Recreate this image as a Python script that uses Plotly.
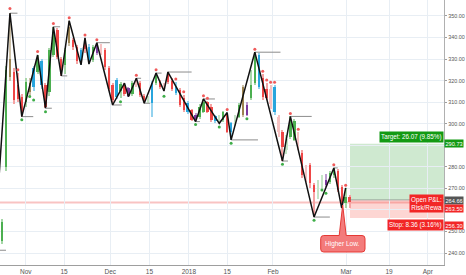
import plotly.graph_objects as go

# ---------------- data ----------------
START = -1
OPEN = [246, 243, 245.5, 280, 330, 324, 318, 312.5, 310, 319, 317, 324, 329, 318, 314.7, 332, 343.5, 330, 327.3, 345,
        338.9, 335.6, 328.7, 338, 335.6, 329.6, 333, 336, 334, 326, 318, 312.4, 315, 318, 316.5, 314, 320, 319, 313, 310,
        309.5, 319, 319.4, 318, 323.5, 320, 314.3, 315.7, 312, 305.5, 306.4, 304, 303, 305.5, 310, 308, 303.5, 301, 301.7, 304.5,
        296, 300, 303, 304, 308.7, 312, 319, 332, 321, 316, 316, 317, 303, 296, 288, 294, 292.5, 295, 286.4, 280,
        280.9, 271.6, 268, 271, 274, 273, 276, 278, 270.6, 263.2, 266]
HIGH = [248, 250, 256, 327, 351.3, 326, 323.5, 314, 321, 321, 327, 331.9, 330, 319, 335, 345, 344.5, 331, 335, 347.8,
        340, 336.5, 335, 339.8, 337, 336.5, 337.6, 337, 335, 327, 319, 321, 319.5, 318.8, 317, 320, 321.1, 320, 314, 313,
        320, 323.5, 320.5, 319, 324, 321, 319.5, 316.5, 313.5, 310.5, 307, 305, 309, 311.5, 310.7, 309, 304, 304, 306, 305.2,
        301, 304, 309.5, 318, 310, 325, 333.2, 333, 323, 319, 318, 318, 304, 297, 295, 303.4, 302, 296, 288, 281,
        282, 272.5, 274, 276, 276.5, 278, 279.5, 279, 271.5, 270.2, 267]
LOW = [241.3, 242, 244, 278, 320, 309, 310, 303.3, 308, 312.5, 315, 323, 316, 307.2, 313, 331, 330, 322.2, 323, 336,
       334, 327.5, 327.3, 333, 327.7, 328.5, 332, 332, 325, 315, 308.7, 311.5, 312, 313, 312.6, 313, 317, 312.5, 309.5, 309.8,
       303, 318, 316, 315.2, 318.5, 315, 313.5, 308, 305.5, 304.5, 301.3, 301, 302, 305, 305, 301, 300.5, 300.2, 301, 295.5,
       292.5, 299, 302.5, 303, 303.5, 311, 318, 316, 311, 311, 307, 304, 294, 282.7, 286, 293, 292, 288, 275, 273,
       270, 256.7, 265, 269, 270.5, 272, 275, 268.5, 260.9, 261, 261]
CLOSE = [243, 248, 254.3, 325, 321.5, 311, 311.5, 305, 319.4, 314.5, 326, 330, 318, 308, 334, 342.6, 331, 323, 334.2, 337.5,
         335.6, 329, 334, 334.5, 328.7, 335.6, 337, 333, 326.3, 316, 311, 320.3, 318.5, 314, 313, 319, 318, 313.3, 310, 312.5,
         319, 322.6, 317, 315.7, 319.4, 316, 317, 308.7, 306.4, 309.6, 301.7, 302, 308, 310, 305.5, 301.7, 301.3, 303, 305.5, 296,
         300.2, 303, 308.7, 317, 304, 318, 331.5, 317, 312.4, 312, 309, 305.5, 296, 289, 293, 301.7, 301.5, 289, 276.2, 275,
         272.5, 268.3, 272, 274, 271.5, 277, 279.3, 269.3, 261.4, 266, 263.5]
BAR_STYLE = ("r g G G O R R R G O C G C R G G R R G O "
             "R R C R C G P r R R R C G R P G r R R g "
             "C G R r R R C R R C R P G G R R C g G R "
             "C g G O P G G C R R r C r R g G G r R r "
             "R R g g P G G R R G R").split()

ZIGZAG_I = [-1, 3, 6, 10, 12, 14, 16, 18, 21, 22, 23, 25, 29, 32, 33, 35, 37, 40, 42, 43, 50, 52, 56, 58, 59,
            65, 72, 74, 80, 85, 87, 88]
ZIGZAG_P = [241.3, 351.3, 303.3, 331.9, 307.2, 345.0, 322.2, 347.8, 327.3, 339.8, 327.7, 337.6, 308.7, 318.8, 312.6,
            321.1, 309.5, 323.5, 315.2, 324.0, 301.0, 311.5, 300.2, 305.2, 292.5, 333.2, 282.7, 303.4, 256.7, 279.5,
            260.9, 270.2]

LEVEL_START = [-1, 3, 6, 12, 14, 16, 25, 29, 35, 37, 40, 43, 50, 52, 59, 65, 72, 74, 80, 85]
LEVEL_END = [2, 4.9, 8.9, 13.6, 15.7, 17.5, 28.3, 31.3, 36.2, 38.5, 41.4, 49, 51.1, 54.9, 65.8, 71.5, 73.4, 79.4, 84, 86]
LEVEL_PRICE = [241.3, 351.3, 303.3, 307.2, 345.0, 322.2, 337.6, 308.7, 321.1, 309.5, 323.5, 324.0, 301.0, 311.5,
               292.5, 333.2, 282.7, 303.4, 256.7, 279.5]

RED_DOT_I = [3, 5, 10, 14, 18, 22, 25, 35, 40, 45, 47, 52, 53, 58, 65, 67, 68, 69, 70, 74, 76, 85, 88]
RED_DOT_P = [353.5, 325, 333.5, 346.5, 349.2, 341.2, 339, 322.5, 325, 320.8, 314.8, 313, 311.8, 306.6, 334.6,
             324.3, 320.3, 319.3, 319.3, 304.8, 297.4, 281, 271.5]
GREEN_DOT_I = [6, 8, 9, 12, 31, 42, 50, 56, 59, 63, 72, 80, 82, 83]
GREEN_DOT_P = [301.8, 312.6, 311, 305.6, 310.2, 312.8, 299.7, 298.5, 291, 302.3, 281.2, 255.2, 269.3, 267.7]

X_TICK_POS = [7, 16.7, 28.4, 38.3, 48.3, 58, 69.6, 88.1, 99, 108.8]
X_TICK_TEXT = ["Nov", "15", "Dec", "15", "2018", "15", "Feb", "Mar", "19", "Apr"]
Y_TICKS = [240, 250, 260, 270, 280, 290, 300, 310, 320, 330, 340, 350]
Y_HIDDEN = [260, 290]

ENTRY, TARGET, STOP, LAST = 264.66, 290.73, 256.30, 263.50
TOOL_START = 89.1
TARGET_TEXT = "Target: 26.07 (9.85%)"
STOP_TEXT = "Stop: 8.36 (3.16%)"
PNL_TEXT = "Open P&L:<br>Risk/Rewa"
CALLOUT_TEXT = "Higher Low."

# ---------------- styling ----------------
BODY_COL = {"G": "#4caf50", "R": "#ef4646", "C": "#27a5dd", "P": "#7b3a9e", "O": "#9c8350",
            "r": "#f6c2c2", "g": "#c4e5c6"}
WICK_COL = {"G": "#a6d7a8", "R": "#f6a3a3", "C": "#93d2ee", "P": "#bd9dcf", "O": "#cdc1a8",
            "r": "#f6c2c2", "g": "#c4e5c6"}
FONT = "Liberation Sans"
XR = [0.48, 112.9]
YR = [234.45, 357.42]

idx = list(range(START, START + len(OPEN)))
body_base = [min(o, c) for o, c in zip(OPEN, CLOSE)]
body_h = [max(abs(c - o), 0.4) for o, c in zip(OPEN, CLOSE)]
wick_h = [h - l for h, l in zip(HIGH, LOW)]

fig = go.Figure()
fig.add_trace(go.Bar(x=idx, y=wick_h, base=LOW, width=0.26,
                     marker=dict(color=[WICK_COL[s] for s in BAR_STYLE], line=dict(width=0)),
                     hoverinfo="skip"))
fig.add_trace(go.Bar(x=idx, y=body_h, base=body_base, width=0.6,
                     marker=dict(color=[BODY_COL[s] for s in BAR_STYLE], line=dict(width=0)),
                     hoverinfo="skip"))

lx, ly = [], []
for s, e, p in zip(LEVEL_START, LEVEL_END, LEVEL_PRICE):
    lx += [s, e, None]
    ly += [p, p, None]
fig.add_trace(go.Scatter(x=lx, y=ly, mode="lines", line=dict(color="#8c8c8c", width=1), hoverinfo="skip"))
fig.add_trace(go.Scatter(x=ZIGZAG_I, y=ZIGZAG_P, mode="lines", line=dict(color="#111111", width=1.5),
                         hoverinfo="skip"))
fig.add_trace(go.Scatter(x=RED_DOT_I, y=RED_DOT_P, mode="markers",
                         marker=dict(color="#f05a5a", size=3, line=dict(width=0)), hoverinfo="skip"))
fig.add_trace(go.Scatter(x=GREEN_DOT_I, y=GREEN_DOT_P, mode="markers",
                         marker=dict(color="#3fae49", size=3, line=dict(width=0)), hoverinfo="skip"))

shapes = [
    dict(type="rect", xref="x", yref="y", x0=TOOL_START, x1=XR[1], y0=ENTRY, y1=TARGET,
         fillcolor="rgba(76,175,80,0.27)", line=dict(width=0), layer="below"),
    dict(type="rect", xref="x", yref="y", x0=TOOL_START, x1=XR[1], y0=STOP, y1=ENTRY,
         fillcolor="rgba(244,67,54,0.22)", line=dict(width=0), layer="below"),
    dict(type="line", xref="paper", yref="y", x0=0, x1=1, y0=LAST, y1=LAST,
         line=dict(color="rgba(239,83,80,0.35)", width=2), layer="below"),
    dict(type="line", xref="x", yref="y", x0=TOOL_START, x1=XR[1], y0=ENTRY, y1=ENTRY,
         line=dict(color="rgba(120,120,120,0.6)", width=1)),
]

# callout (paper coords from pixel layout of 444x265 plot area)
def px(x):
    return x / 444.0

def py(y):
    return 1 - y / 265.0

L, Rr, T, B, AX, AY, r = 320.7, 365.0, 235.5, 252.0, 342.7, 205.0, 3
pts = (f"M {px(L+r)},{py(T)} L {px(AX-3.5)},{py(T)} L {px(AX)},{py(AY)} L {px(AX+3.5)},{py(T)} "
       f"L {px(Rr-r)},{py(T)} Q {px(Rr)},{py(T)} {px(Rr)},{py(T+r)} L {px(Rr)},{py(B-r)} "
       f"Q {px(Rr)},{py(B)} {px(Rr-r)},{py(B)} L {px(L+r)},{py(B)} Q {px(L)},{py(B)} {px(L)},{py(B-r)} "
       f"L {px(L)},{py(T+r)} Q {px(L)},{py(T)} {px(L+r)},{py(T)} Z")
shapes.append(dict(type="path", xref="paper", yref="paper", path=pts,
                   fillcolor="#f37b7b", line=dict(color="#e53935", width=1)))

ann = []
def price_label(y, text, bg):
    ann.append(dict(xref="paper", yref="y", x=1.0, y=y, xanchor="left", yanchor="middle", text=text,
                    showarrow=False, bgcolor=bg, borderpad=0.5, font=dict(color="white", size=5.6, family=FONT)))

price_label(TARGET, f"{TARGET:.2f}", "#139a13")
price_label(ENTRY - 0.2, f"{ENTRY:.2f}", "#555555")
price_label(LAST - 3.0, f"{LAST:.2f}", "#f22626")
price_label(STOP - 3.3, f"{STOP:.2f}", "#f22626")

ann.append(dict(xref="paper", yref="y", x=1.0, y=TARGET + 3.1, xanchor="right", yanchor="middle",
                text=TARGET_TEXT, showarrow=False, bgcolor="#139a13", borderpad=1,
                font=dict(color="white", size=6.3, family=FONT)))
ann.append(dict(xref="paper", yref="y", x=1.0, y=STOP - 3.1, xanchor="right", yanchor="middle",
                text=STOP_TEXT, showarrow=False, bgcolor="#f22626", borderpad=1,
                font=dict(color="white", size=6.3, family=FONT)))
ann.append(dict(xref="paper", yref="y", x=1.0, y=ENTRY - 1.9, xanchor="right", yanchor="middle",
                text=PNL_TEXT, showarrow=False, bgcolor="#f22626", borderpad=1, align="center",
                font=dict(color="white", size=6.3, family=FONT)))
ann.append(dict(xref="paper", yref="paper", x=px(342.8), y=py(244), xanchor="center", yanchor="middle",
                text=CALLOUT_TEXT, showarrow=False, font=dict(color="white", size=6.5, family=FONT)))

fig.update_layout(
    width=466, height=275, margin=dict(l=0, r=22, t=0, b=10),
    paper_bgcolor="white", plot_bgcolor="white", showlegend=False, barmode="overlay",
    bargap=0, shapes=shapes, annotations=ann,
    font=dict(family=FONT, size=6.5, color="#555555"),
)
fig.update_xaxes(range=XR, tickmode="array", tickvals=X_TICK_POS, ticktext=X_TICK_TEXT,
                 showgrid=True, gridcolor="#e8eef4", gridwidth=1, zeroline=False,
                 showline=True, linecolor="#9e9e9e", linewidth=1.3, ticks="", ticklen=0,
                 tickfont=dict(size=6.5, color="#555555", family=FONT), automargin=False)
fig.update_yaxes(range=YR, side="right", tickmode="array", tickvals=Y_TICKS,
                 ticktext=["" if v in Y_HIDDEN else f"{v:.2f}" for v in Y_TICKS],
                 showgrid=True, gridcolor="#e8eef4", gridwidth=1, zeroline=False,
                 showline=True, linecolor="#b0b0b0", linewidth=1.3, ticks="outside", ticklen=2,
                 tickcolor="#9e9e9e", tickfont=dict(size=5.4, color="#555555", family=FONT), automargin=False)

fig.write_html("out.html", config={"displayModeBar": False})
